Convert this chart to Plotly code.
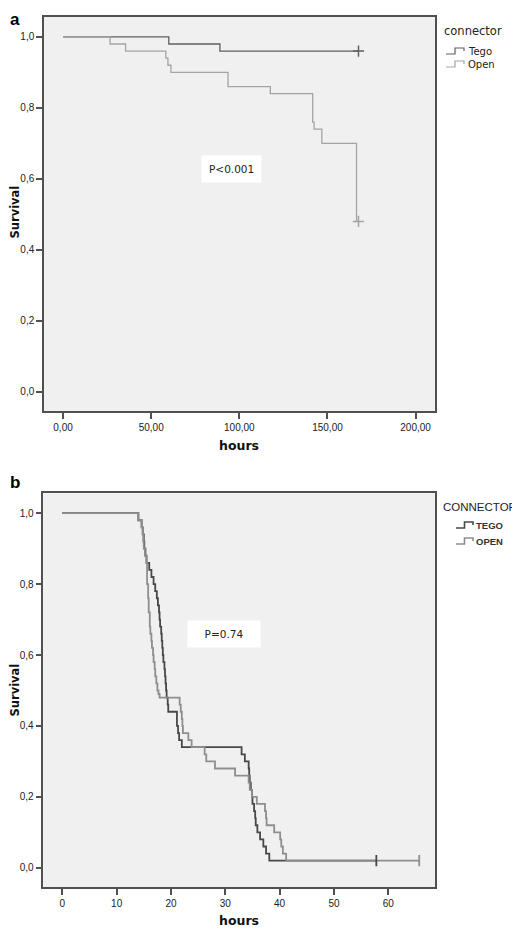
import plotly.graph_objects as go

# ---------------------------------------------------------------- panel a data
A_TEGO_T = [0, 60, 89, 167.6]
A_TEGO_S = [1.0, 0.98, 0.96, 0.96]
A_OPEN_T = [0, 26.7, 35.5, 58.3, 59.5, 61.2, 93.6, 117.6, 141.6, 142.4, 146.8, 166.5, 167.6]
A_OPEN_S = [1.0, 0.98, 0.96, 0.94, 0.92, 0.90, 0.86, 0.84, 0.76, 0.74, 0.70, 0.48, 0.48]
A_CENS_T = [167.6, 167.6]
A_CENS_S = [0.96, 0.48]
A_XTICKS = [0, 50, 100, 150, 200]
A_XLABELS = ["0,00", "50,00", "100,00", "150,00", "200,00"]

# ---------------------------------------------------------------- panel b data
B_TEGO_T = [0, 14.0, 14.6, 14.8, 15.0, 15.1, 15.3, 15.5, 16.0, 16.4, 16.8, 17.1, 17.4,
            17.6, 17.8, 17.9, 18.0, 18.2, 18.3, 18.4, 18.5, 18.6, 18.8, 18.9, 19.0,
            19.1, 19.2, 19.4, 19.5, 21.1, 21.3, 21.5, 22.0, 22.3, 33.0, 33.6, 34.3,
            34.4, 34.5, 34.7, 34.9, 35.0, 35.3, 35.5, 35.6, 35.9, 36.4, 37.0, 37.5,
            38.1, 57.8]
B_TEGO_S = [1.0, 0.98, 0.96, 0.94, 0.92, 0.90, 0.88, 0.86, 0.84, 0.82, 0.80, 0.78, 0.76,
            0.74, 0.72, 0.70, 0.68, 0.66, 0.64, 0.62, 0.60, 0.58, 0.56, 0.54, 0.52,
            0.50, 0.48, 0.46, 0.44, 0.40, 0.38, 0.36, 0.34, 0.34, 0.32, 0.30, 0.28,
            0.26, 0.24, 0.22, 0.20, 0.18, 0.16, 0.14, 0.12, 0.10, 0.08, 0.06, 0.04,
            0.02, 0.02]
B_OPEN_T = [0, 14.0, 14.6, 14.8, 14.9, 15.0, 15.2, 15.5, 15.6, 15.8, 15.9, 16.1, 16.2,
            16.4, 16.5, 16.7, 16.8, 17.0, 17.1, 17.3, 17.5, 17.7, 17.9, 21.6, 21.8,
            22.0, 22.1, 22.2, 23.2, 23.8, 26.2, 26.5, 28.1, 31.8, 34.3, 34.5, 34.9,
            35.8, 37.3, 37.5, 37.6, 39.0, 40.1, 40.3, 40.6, 41.2, 65.7]
B_OPEN_S = [1.0, 0.98, 0.96, 0.94, 0.92, 0.90, 0.88, 0.86, 0.80, 0.76, 0.72, 0.68, 0.66,
            0.64, 0.62, 0.60, 0.58, 0.56, 0.54, 0.52, 0.50, 0.49, 0.48, 0.46, 0.44,
            0.42, 0.40, 0.38, 0.36, 0.34, 0.32, 0.30, 0.28, 0.26, 0.24, 0.22, 0.20,
            0.18, 0.16, 0.14, 0.12, 0.10, 0.08, 0.06, 0.04, 0.02, 0.02]
B_CENS_TEGO = ([57.8], [0.02])
B_CENS_OPEN = ([65.7], [0.02])
B_XTICKS = [0, 10, 20, 30, 40, 50, 60]
B_XLABELS = ["0", "10", "20", "30", "40", "50", "60"]

Y_TICKS = [0, 0.2, 0.4, 0.6, 0.8, 1.0]
Y_LABELS = ["0,0", "0,2", "0,4", "0,6", "0,8", "1,0"]

A_DARK, A_LIGHT = "#5f5f5f", "#a4a4a4"
B_DARK, B_LIGHT = "#484848", "#8e8e8e"
BG = "#f0f0f0"
FRAME = "#505050"
TICKFONT = dict(family="Liberation Sans, Arial", size=10, color="#222")
BOLD = "DejaVu Sans, Verdana"

W, H = 520, 929
OFF = 8   # the page body margin pushes the figure 8px right and down


def xp(x):
    return (x - OFF) / W


def px(y):
    return 1 - (y - OFF) / H


fig = go.Figure()

# ---- panel a
fig.add_trace(go.Scatter(x=A_TEGO_T, y=A_TEGO_S, mode="lines", line_shape="hv", name="Tego",
                         line=dict(color=A_DARK, width=1.3), xaxis="x", yaxis="y"))
fig.add_trace(go.Scatter(x=A_OPEN_T, y=A_OPEN_S, mode="lines", line_shape="hv", name="Open",
                         line=dict(color=A_LIGHT, width=1.3), xaxis="x", yaxis="y"))
fig.add_trace(go.Scatter(x=A_CENS_T[:1], y=A_CENS_S[:1], mode="markers",
                         marker=dict(symbol="cross-thin", size=8, line=dict(color=A_DARK, width=1.5)),
                         xaxis="x", yaxis="y"))
fig.add_trace(go.Scatter(x=A_CENS_T[1:], y=A_CENS_S[1:], mode="markers",
                         marker=dict(symbol="cross-thin", size=8, line=dict(color=A_LIGHT, width=1.5)),
                         xaxis="x", yaxis="y"))

# ---- panel b
fig.add_trace(go.Scatter(x=B_TEGO_T, y=B_TEGO_S, mode="lines", line_shape="hv", name="TEGO",
                         line=dict(color=B_DARK, width=1.8), xaxis="x2", yaxis="y2"))
fig.add_trace(go.Scatter(x=B_OPEN_T, y=B_OPEN_S, mode="lines", line_shape="hv", name="OPEN",
                         line=dict(color=B_LIGHT, width=1.8), xaxis="x2", yaxis="y2"))
fig.add_trace(go.Scatter(x=B_CENS_TEGO[0], y=B_CENS_TEGO[1], mode="markers",
                         marker=dict(symbol="line-ns", size=8, line=dict(color=B_DARK, width=1.8)),
                         xaxis="x2", yaxis="y2"))
fig.add_trace(go.Scatter(x=B_CENS_OPEN[0], y=B_CENS_OPEN[1], mode="markers",
                         marker=dict(symbol="line-ns", size=8, line=dict(color=B_LIGHT, width=1.8)),
                         xaxis="x2", yaxis="y2"))

axis_common = dict(showgrid=False, zeroline=False, showline=True, mirror=True,
                   linecolor=FRAME, linewidth=1.5, ticks="outside", ticklen=6,
                   tickwidth=1.5, tickcolor=FRAME, tickfont=TICKFONT)

fig.update_layout(
    width=W, height=H, margin=dict(l=0, r=0, t=0, b=0),
    paper_bgcolor="white", plot_bgcolor=BG, showlegend=False,
    xaxis=dict(domain=[xp(44), xp(435)], range=[-10.8, 211], tickvals=A_XTICKS,
               ticktext=A_XLABELS, anchor="y", **axis_common),
    yaxis=dict(domain=[px(411), px(17)], range=[-0.054, 1.056], tickvals=Y_TICKS,
               ticktext=Y_LABELS, anchor="x", **axis_common),
    xaxis2=dict(domain=[xp(43.3), xp(435)], range=[-3.5, 68.6], tickvals=B_XTICKS,
                ticktext=B_XLABELS, anchor="y2", **axis_common),
    yaxis2=dict(domain=[px(887.3), px(493.3)], range=[-0.055, 1.056], tickvals=Y_TICKS,
                ticktext=Y_LABELS, anchor="x2", **axis_common),
)

ann = [
    dict(text="<b>a</b>", x=xp(8), y=px(8), xanchor="left", yanchor="top",
         font=dict(family="Liberation Sans, Arial", size=17, color="#000")),
    dict(text="<b>b</b>", x=xp(8), y=px(483), xanchor="left", yanchor="middle",
         font=dict(family="Liberation Sans, Arial", size=17, color="#000")),
    dict(text="<b>Survival</b>", x=xp(14.5), y=px(212), textangle=-90, xanchor="center", yanchor="middle",
         font=dict(family=BOLD, size=11.5, color="#111")),
    dict(text="<b>Survival</b>", x=xp(14.5), y=px(690), textangle=-90, xanchor="center", yanchor="middle",
         font=dict(family=BOLD, size=11.5, color="#111")),
    dict(text="<b>hours</b>", x=xp(239), y=px(446), xanchor="center", yanchor="middle",
         font=dict(family=BOLD, size=12.5, color="#111")),
    dict(text="<b>hours</b>", x=xp(239), y=px(920), xanchor="center", yanchor="middle",
         font=dict(family=BOLD, size=12.5, color="#111")),
    # legend panel a
    dict(text="connector", x=xp(442), y=px(31), xanchor="left", yanchor="middle",
         font=dict(family="DejaVu Sans", size=11.5, color="#222")),
    dict(text="Tego", x=xp(466), y=px(51), xanchor="left", yanchor="middle",
         font=dict(family="DejaVu Sans", size=10, color="#222")),
    dict(text="Open", x=xp(466), y=px(64), xanchor="left", yanchor="middle",
         font=dict(family="DejaVu Sans", size=10, color="#222")),
    # legend panel b
    dict(text="CONNECTOR", x=xp(441), y=px(507), xanchor="left", yanchor="middle",
         font=dict(family="Liberation Sans, Arial", size=11.5, color="#222")),
    dict(text="<b>TEGO</b>", x=xp(474), y=px(525), xanchor="left", yanchor="middle",
         font=dict(family="Liberation Sans, Arial", size=9.5, color="#333")),
    dict(text="<b>OPEN</b>", x=xp(474), y=px(541), xanchor="left", yanchor="middle",
         font=dict(family="Liberation Sans, Arial", size=9.5, color="#333")),
]
for a in ann:
    a.update(xref="paper", yref="paper", showarrow=False)
    fig.add_annotation(**a)


def step_icon(x0, x1, yc, color, width):
    xm = (x0 + x1) / 2
    pts = [(x0, yc + 3), (xm, yc + 3), (xm, yc - 3), (x1, yc - 3), (x1, yc)]
    path = "M " + " L ".join(f"{xp(x):.5f},{px(y):.5f}" for x, y in pts)
    fig.add_shape(type="path", path=path, xref="paper", yref="paper",
                  line=dict(color=color, width=width))


step_icon(446, 464, 51, A_DARK, 1.2)
step_icon(446, 464, 64, A_LIGHT, 1.2)
step_icon(456, 473, 525, B_DARK, 1.6)
step_icon(456, 473, 541, B_LIGHT, 1.6)

# p-value boxes
fig.add_annotation(text="P<0.001", x=95.5, y=0.628, xref="x", yref="y", showarrow=False,
                   bgcolor="white", borderpad=7, font=dict(family="DejaVu Sans", size=10.5, color="#222"))
fig.add_annotation(text="P=0.74", x=29.8, y=0.658, xref="x2", yref="y2", showarrow=False,
                   bgcolor="white", borderpad=7, width=58,
                   font=dict(family="DejaVu Sans", size=10.5, color="#222"))

fig.write_html("out.html")
